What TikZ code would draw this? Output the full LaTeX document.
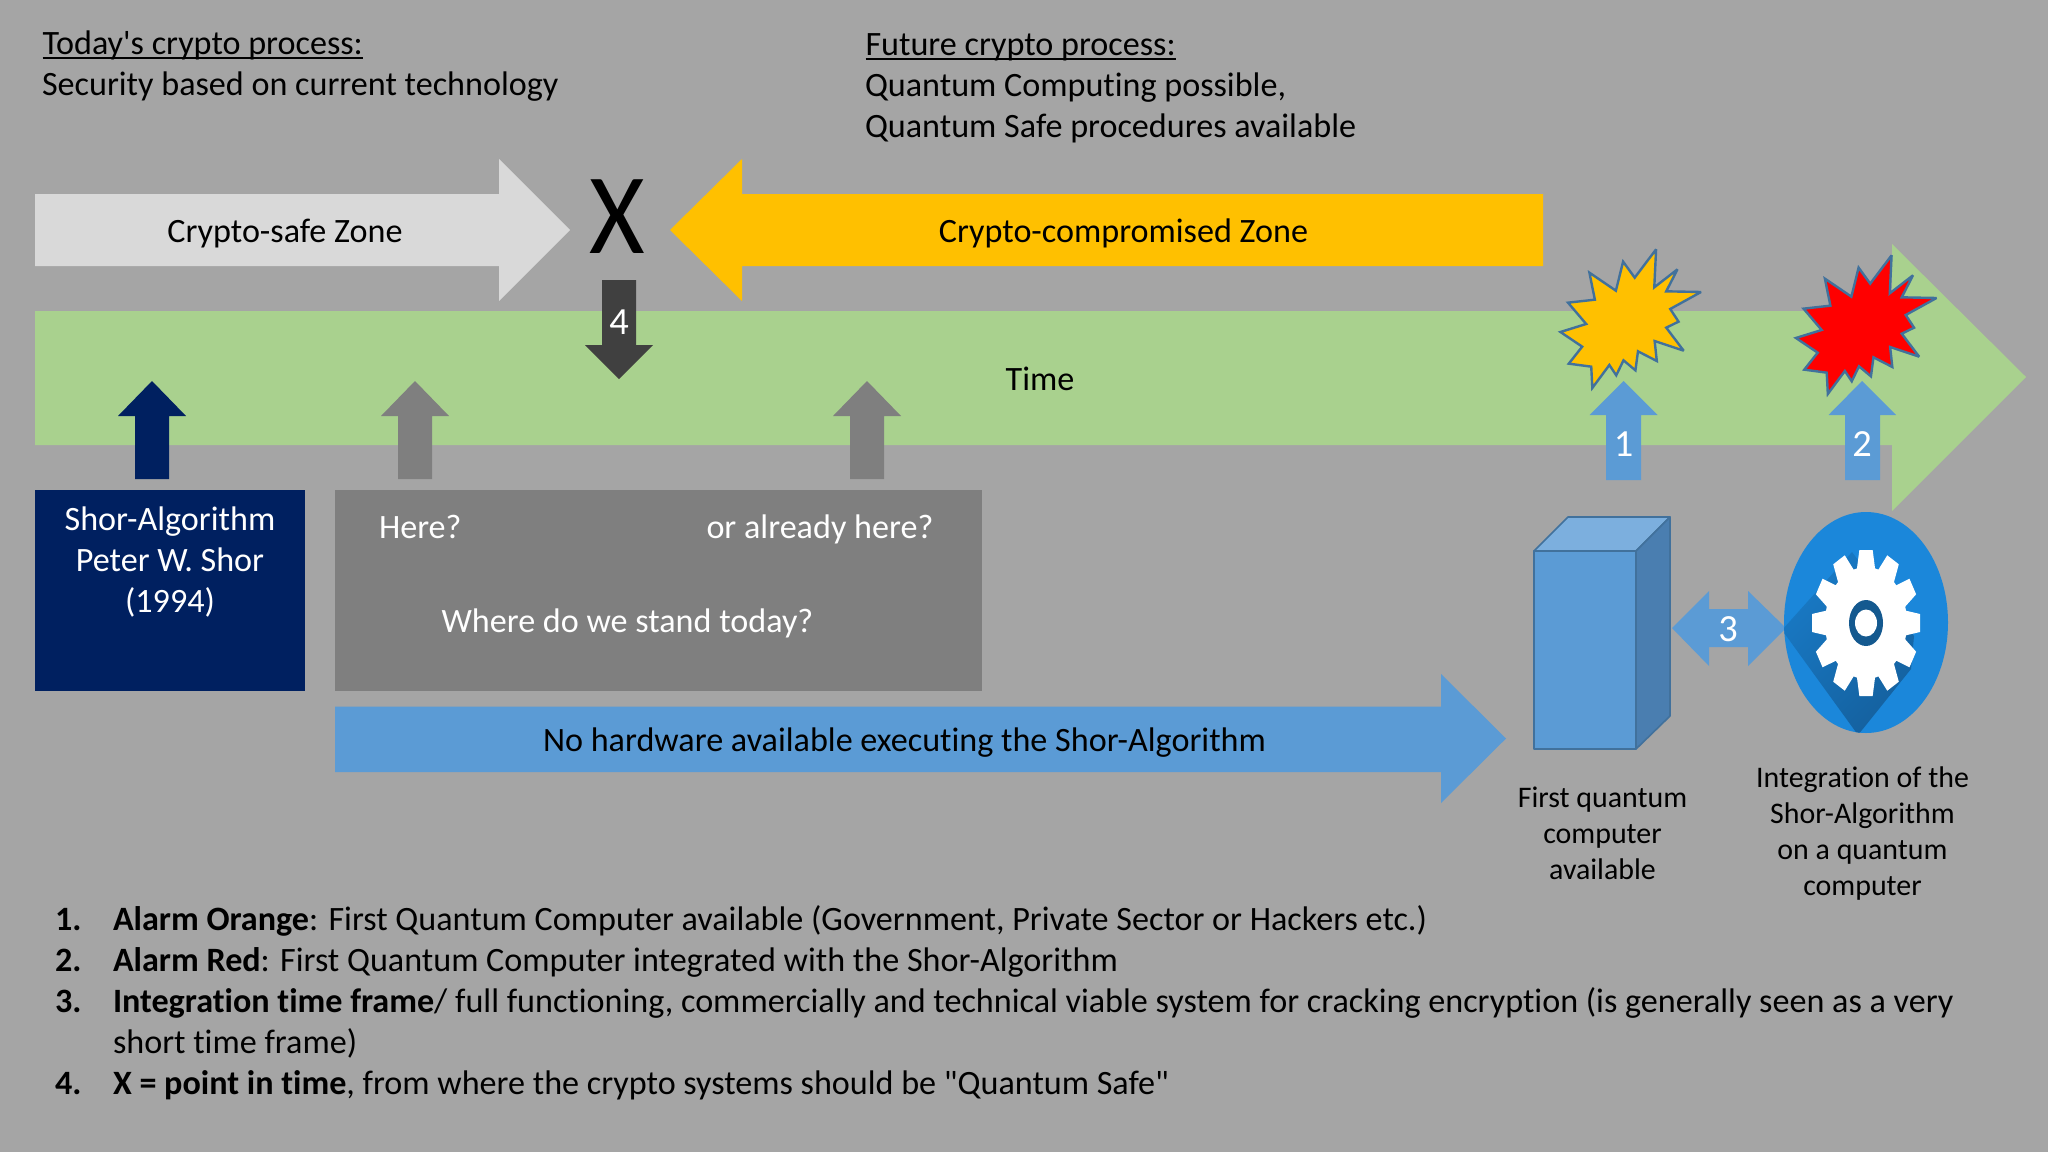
\documentclass[tikz,border=0pt]{standalone}
\usepackage{fontspec}
\newfontfamily\carlito{Carlito}[Ligatures=NoCommon]
\definecolor{bggrey}{HTML}{A5A5A5}
\definecolor{safegrey}{HTML}{D9D9D9}
\definecolor{amber}{HTML}{FFC000}
\definecolor{timegreen}{HTML}{A9D18E}
\definecolor{navy}{HTML}{002060}
\definecolor{midgrey}{HTML}{7F7F7F}
\definecolor{darkgrey}{HTML}{404040}
\definecolor{office}{HTML}{5B9BD5}
\definecolor{officeline}{HTML}{41719C}
\definecolor{cubetop}{HTML}{7CAFDE}
\definecolor{cubeside}{HTML}{4A7EB0}
\definecolor{badge}{HTML}{1B87DA}
\definecolor{badgedark}{HTML}{145F9C}
\definecolor{ringblue}{HTML}{14598F}
\newcommand{\ulbox}[1]{\setbox0\hbox{#1}\rlap{\copy0}\rlap{\rule[-5pt]{\wd0}{2.5pt}}\hspace{\wd0}}
\tikzset{
  txt/.style={inner sep=0pt,outer sep=0pt,font=\carlito\fontsize{34.13}{41.6}\selectfont,text=black},
  lft/.style={txt,anchor=base west},
  mid/.style={txt,anchor=base},
  small/.style={txt,anchor=base,font=\carlito\fontsize{29.9}{36.4}\selectfont},
  digit/.style={txt,anchor=base,text=white,font=\carlito\fontsize{38.4}{44}\selectfont},
  burst/.style={draw=officeline,line width=2.4pt,line join=miter,miter limit=3},
}
\begin{document}
\begin{tikzpicture}[x=1pt,y=-1pt]
\useasboundingbox (0,0) rectangle (2048,1152);
\fill[bggrey] (0,0) rectangle (2048,1152);

% block arrows
\fill[timegreen] (35,311) -- (1892,311) -- (1892,244) -- (2026,377) -- (1892,511) -- (1892,445) -- (35,445) -- cycle;
\fill[safegrey] (35,194) -- (499,194) -- (499,159) -- (570,230) -- (499,301) -- (499,266) -- (35,266) -- cycle;
\fill[amber] (1543,194) -- (742,194) -- (742,159) -- (670,230) -- (742,301) -- (742,266) -- (1543,266) -- cycle;
\fill[darkgrey] (602,280) -- (636,280) -- (636,345) -- (653,345) -- (619,379) -- (585,345) -- (602,345) -- cycle;
\fill[navy] (135,479) -- (135,416) -- (118,416) -- (152,381) -- (186,416) -- (169,416) -- (169,479) -- cycle;
\fill[midgrey] (398,479) -- (398,416) -- (381,416) -- (415,381) -- (449,416) -- (432,416) -- (432,479) -- cycle;
\fill[midgrey] (850,479) -- (850,416) -- (833,416) -- (867,381) -- (901,416) -- (884,416) -- (884,479) -- cycle;
\fill[office] (1606,480) -- (1606,415) -- (1589.5,415) -- (1623.5,381) -- (1657.5,415) -- (1641,415) -- (1641,480) -- cycle;
\fill[office] (1845,480) -- (1845,415) -- (1828.5,415) -- (1862,381) -- (1896,415) -- (1880,415) -- (1880,480) -- cycle;
\fill[office] (335,706.5) -- (1441,706.5) -- (1441,674) -- (1506,738.5) -- (1441,803) -- (1441,772) -- (335,772) -- cycle;
\fill[office] (1672,628) -- (1709,591) -- (1709,609) -- (1748,609) -- (1748,591) -- (1786,628) -- (1748,666) -- (1748,647) -- (1709,647) -- (1709,666) -- cycle;

% boxes
\fill[navy] (35,490) rectangle (305,691);
\fill[midgrey] (335,490) rectangle (982,691);

% bursts
\begin{scope}[shift={(1480,230)},xscale=0.3623,yscale=0.3333]
\def\burstpath{(486,58) -- (481,172) -- (545,118) -- (514,184) -- (610,186) -- (525,237) -- (548,275) -- (514,293) -- (562,362) -- (482,333) -- (488,393) -- (436,364) -- (429,421) -- (396,391) -- (376,436) -- (357,405) -- (310,474) -- (307,410) -- (245,401) -- (282,350) -- (222,306) -- (293,282) -- (243,218) -- (317,209) -- (302,128) -- (375,182) -- (395,95) -- (427,143) -- cycle}
\filldraw[burst,fill=amber] \burstpath;
\begin{scope}[shift={(650,18)}]
\filldraw[burst,fill=red] \burstpath;
\end{scope}
\end{scope}

% cube
\filldraw[fill=cubetop,draw=officeline,line width=1.6pt,line join=round] (1534,551) -- (1568,517) -- (1670,517) -- (1636,551) -- cycle;
\filldraw[fill=cubeside,draw=officeline,line width=1.6pt,line join=round] (1636,551) -- (1670,517) -- (1670,716) -- (1636,749) -- cycle;
\filldraw[fill=office,draw=officeline,line width=1.6pt,line join=round] (1534,551) rectangle (1636,749);

% gear badge
\fill[badge] (1866,622.5) ellipse [x radius=82,y radius=110.5];
\begin{scope}
\clip (1866,622.5) ellipse [x radius=82,y radius=110.5];
\clip (1852,552) -- (1782,630) -- (1858,735) -- (1911,669) -- (1914,636) -- cycle;
\shade[left color=badge!70!badgedark,right color=badgedark,shading angle=45] (1770,550) rectangle (1930,740);
\end{scope}
\fill[white] (1866,623) ellipse [x radius=41,y radius=56];
\begin{scope}[shift={(1866,623)},xscale=0.74]
\foreach \a in {0,30,...,330}{
  \fill[white,rotate=\a] (-13,-50) -- (-9,-73) -- (9,-73) -- (13,-50) -- cycle;
}
\end{scope}
\fill[ringblue] (1866,623) ellipse [x radius=17,y radius=23];
\fill[white] (1866,623) ellipse [x radius=11,y radius=13.5];

% upper texts
\node[lft] (todayhead) at (42,54) {\ulbox{Today's crypto process:}};
\node[lft] (todaytext) at (42,95) {Security based on current technology};
\node[lft] (futurehead) at (865,55) {\ulbox{Future crypto process:}};
\node[lft] (futuretext) at (865,96) {Quantum Computing possible,};
\node[lft] (futuretextb) at (865,137) {Quantum Safe procedures available};
\node[mid] (safe) at (285,242) {Crypto-safe Zone};
\node[mid] (compromised) at (1123.5,242) {Crypto-compromised Zone};
\node[txt,anchor=base,xscale=0.93,font=\carlito\fontsize{115}{120}\selectfont] (xmark) at (617,253) {X};
\node[mid] (time) at (1040,390) {Time};
\node[digit] (four) at (619,334) {4};
\node[digit] (one) at (1623.5,456) {1};
\node[digit] (two) at (1862,456) {2};
\node[digit] (three) at (1728,641) {3};

% box texts
\node[mid,text=white] (shora) at (170,530) {Shor-Algorithm};
\node[mid,text=white] (shorb) at (170,571) {Peter W. Shor};
\node[mid,text=white] (shorc) at (170,612) {(1994)};
\node[lft,text=white] (here) at (379,538) {Here?};
\node[lft,text=white] (already) at (706.5,538) {or already here?};
\node[lft,text=white] (stand) at (441.5,632) {Where do we stand today?};
\node[mid] (nohw) at (904.5,751) {No hardware available executing the Shor-Algorithm};

% captions
\node[small] (fqa) at (1602.5,807.5) {First quantum};
\node[small] (fqb) at (1602.5,843.5) {computer};
\node[small] (fqc) at (1602.5,879.5) {available};
\node[small] (inta) at (1862.5,787.5) {Integration of the};
\node[small] (intb) at (1862.5,823.5) {Shor-Algorithm};
\node[small] (intc) at (1862.5,859.5) {on a quantum};
\node[small] (intd) at (1862.5,895.5) {computer};

% list
\node[lft] (na) at (55,930.5) {\textbf{1.}};
\node[lft] (la) at (113,930.5) {\textbf{Alarm Orange}: First Quantum Computer available (Government, Private Sector or Hackers etc.)};
\node[lft] (nb) at (55,971.5) {\textbf{2.}};
\node[lft] (lb) at (113,971.5) {\textbf{Alarm Red}: First Quantum Computer integrated with the Shor-Algorithm};
\node[lft] (nc) at (55,1012.5) {\textbf{3.}};
\node[lft] (lc) at (113,1012.5) {\textbf{Integration time frame}/ full functioning, commercially and technical viable system for cracking encryption (is generally seen as a very};
\node[lft] (lcb) at (113,1053.5) {short time frame)};
\node[lft] (nd) at (55,1094.5) {\textbf{4.}};
\node[lft] (ld) at (113,1094.5) {\textbf{X = point in time}, from where the crypto systems should be "Quantum Safe"};
\end{tikzpicture}
\end{document}
